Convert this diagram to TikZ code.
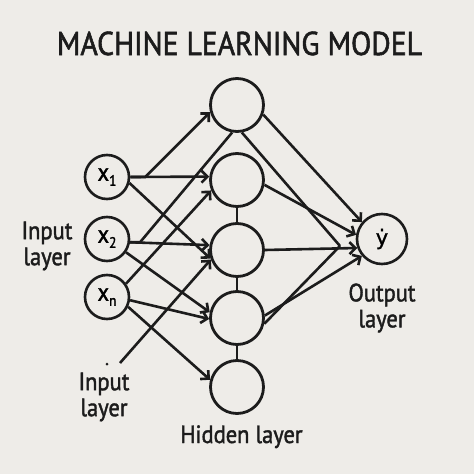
\documentclass[tikz,border=0pt]{standalone}
\usepackage{fontspec}
\setmainfont[FakeStretch=0.9,FakeBold=1.6]{PT Sans}
\newfontfamily\dvsfont[FakeBold=1.2]{DejaVu Sans}
\usetikzlibrary{arrows.meta}
\definecolor{bg}{RGB}{238,236,232}
\definecolor{ink}{RGB}{28,28,28}
\newcommand{\lblsub}[1]{\raisebox{-0.4ex}{\fontsize{15}{15}\selectfont #1}}
\begin{document}
\begin{tikzpicture}[x=1pt,y=-1pt,
  inpnode/.style={circle,draw=ink,line width=2.6pt,minimum size=44pt,inner sep=0pt,font=\fontsize{25}{25}\selectfont},
  hidnode/.style={circle,draw=ink,line width=2.8pt,minimum size=53pt,inner sep=0pt},
  outnode/.style={circle,draw=ink,line width=2.6pt,minimum size=50pt,inner sep=0pt,font=\fontsize{21}{21}\selectfont},
  conn/.style={draw=ink,line width=2.6pt},
  arr/.style={conn,-{Straight Barb[length=6pt,width=12pt]}},
  lbl/.style={text=ink,inner sep=0pt,align=center,font=\fontsize{25}{26}\selectfont},
  dotmark/.style={circle,fill=ink,inner sep=0pt,minimum size=3pt}]
\fill[bg] (0,0) rectangle (474,474);
\useasboundingbox (0,0) rectangle (474,474);
% title
\node[anchor=base,text=ink,inner sep=0pt,font=\fontsize{33}{33}\selectfont] (title) at (239.5,55) {MACHINE LEARNING MODEL};
% input nodes
\node[inpnode] (x1) at (107,177) {x\lblsub{1}};
\node[inpnode] (x2) at (107,239) {x\lblsub{2}};
\node[inpnode] (xn) at (107,297) {x\lblsub{n}};
% hidden nodes
\node[hidnode] (h1) at (237,105) {};
\node[hidnode] (h2) at (237,180) {};
\node[hidnode] (h3) at (237,250) {};
\node[hidnode] (h4) at (237,318) {};
\node[hidnode] (h5) at (237,387) {};
% output node
\node[outnode] (yh) at (382,239) {{\dvsfont ẏ}};
% labels
\node[lbl] (inlbl) at (47,246) {Input\\layer};
\node[lbl] (inlbl2) at (104,397) {Input\\layer};
\node[lbl] (outlbl) at (382,308) {Output\\layer};
\node[lbl,anchor=base] (hidlbl) at (241.5,443) {Hidden layer};
\node[dotmark] (dot) at (107,364) {};
\coordinate (ptr) at (120,363);
\coordinate (conv) at (340,246);
% hidden chain
\draw[conn] (h2.south) -- (h3.north);
\draw[conn] (h3.south) -- (h4.north);
\draw[conn] (h4.south) -- (h5.north);
% input -> hidden
\draw[arr] (x1.east) -- ++(15,0) -- (h1.195);
\draw[arr] (x1.east) -- (h2.173);
\draw[arr] (x1.-15) -- (h3.198);
\draw[conn] (x2.-8) -- ++(10,0) -- (h1.260);
\draw[arr] (x2.-8) -- (h3.170);
\draw[arr] (x2.-35) -- (h4.168);
\draw[arr] (xn.35) -- (h2.202);
\draw[arr] (xn.-8) -- (h4.182);
\draw[arr] (xn.-25) -- (h5.165);
\draw[arr] (ptr) -- (h3.200);
% hidden -> output
\draw[arr] (h1.-20) -- (yh.140);
\draw[arr] (h2.-10) -- (yh.171);
\draw[arr] (h3.east) -- (yh.200);
\draw[arr] (h4.5) -- (yh.220);
\draw[conn] (h1.-80) -- (conv);
\draw[conn] (h4.-12) -- (conv);
\end{tikzpicture}
\end{document}
